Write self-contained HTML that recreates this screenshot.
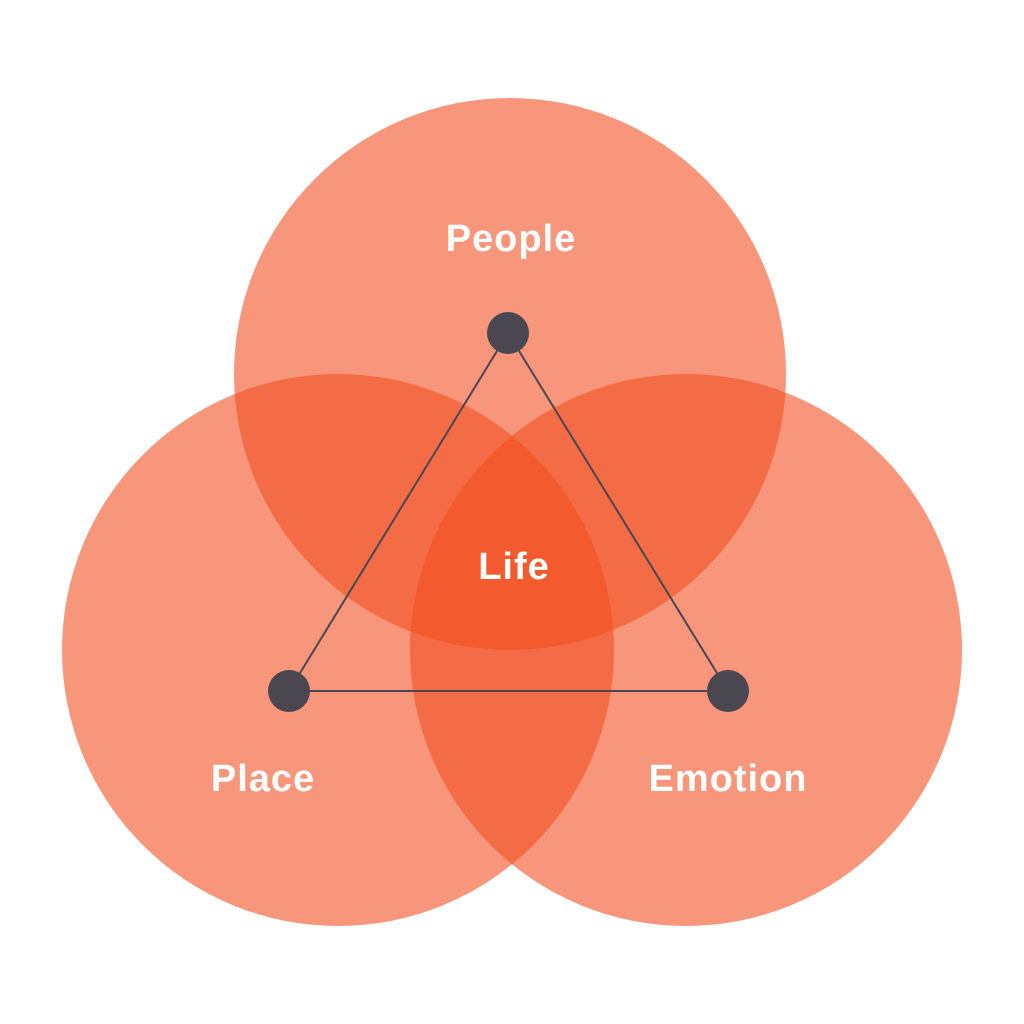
<!DOCTYPE html>
<html><head><style>
html,body{margin:0;padding:0;background:#fff;}
svg{display:block}
text{font-family:"Liberation Sans",sans-serif;font-weight:bold;fill:#fff;font-size:38px;text-anchor:middle;letter-spacing:1px}
</style></head><body>
<svg width="1024" height="1024" viewBox="0 0 1024 1024">
<g fill="rgb(242,80,33)" fill-opacity="0.6">
<circle cx="510" cy="374" r="276"/>
<circle cx="338" cy="650" r="276"/>
<circle cx="686" cy="650" r="276"/>
</g>
<polygon points="508,333 289,691 728,691" fill="none" stroke="#4a4750" stroke-width="2"/>
<circle cx="508" cy="333" r="21" fill="#4a4750"/>
<circle cx="289" cy="691" r="21" fill="#4a4750"/>
<circle cx="728" cy="691" r="21" fill="#4a4750"/>
<text x="511" y="251">People</text>
<text x="514" y="579">Life</text>
<text x="263" y="791">Place</text>
<text x="728" y="791">Emotion</text>
</svg>
</body></html>
